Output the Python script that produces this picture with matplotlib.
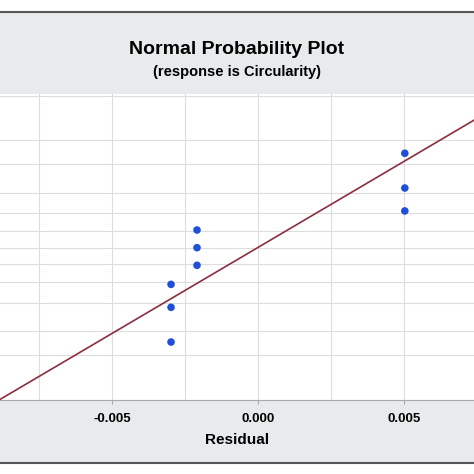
import matplotlib
matplotlib.use("Agg")
import matplotlib.pyplot as plt
import numpy as np
from matplotlib.patches import Rectangle
from matplotlib.lines import Line2D
from statistics import NormalDist

residuals = [-0.00298, -0.00298, -0.00298, -0.00209, -0.00209, -0.00209, 0.00503, 0.00503, 0.00503]
percent_grid = [1, 5, 10, 20, 30, 40, 50, 60, 70, 80, 90, 95, 99]
x_ticks = [-0.005, 0.0, 0.005]
x_labels = ["-0.005", "0.000", "0.005"]

nd = NormalDist()
n = len(residuals)
r = np.sort(np.array(residuals))
z = np.array([nd.inv_cdf((i + 1 - 0.3) / (n + 0.4)) for i in range(n)])
mu, sd = r.mean(), r.std(ddof=1)

plt.rcParams['font.family'] = ['Liberation Sans', 'DejaVu Sans']
fig = plt.figure(figsize=(4.74, 4.74), dpi=100)
fig.patch.set_facecolor('white')
H = 474.0
bg = Rectangle((0, (H - 463) / H), 1, (463 - 12) / H, transform=fig.transFigure,
               facecolor='#e8ebec', edgecolor='none', zorder=-5)
fig.patches.append(bg)
for yy in [12, 463]:
    fig.lines.append(Line2D([0, 1], [(H - yy) / H] * 2, transform=fig.transFigure,
                            color='#555555', lw=1.5, zorder=-4))

ax = fig.add_axes([0, (H - 400) / H, 1, (400 - 94) / H])
ax.set_zorder(2)
ax.set_facecolor('white')
xmin, xmax = -0.00884, 0.0074
ax.set_xlim(xmin, xmax)
ax.set_ylim(-2.33, 2.35)
for v in np.arange(-0.0075, 0.0076, 0.0025):
    ax.axvline(v, color='#dddddd', lw=0.8, zorder=1)
for p in percent_grid:
    ax.axhline(nd.inv_cdf(p / 100), color='#dddddd', lw=0.8, zorder=1)

xs = np.array([xmin, xmax])
ax.plot(xs, (xs - mu) / sd, color='#8b2e3e', lw=1.2, zorder=2)
ax.scatter(r, z, s=30, color='#1f4fd8', zorder=3, edgecolors='none')

ax.set_xticks(x_ticks)
ax.set_xticklabels(x_labels, fontsize=9.5, fontweight='bold')
ax.tick_params(axis='x', length=3, color='#aaaaaa', pad=6)
ax.set_yticks([])
for s in ['left', 'right', 'top']:
    ax.spines[s].set_visible(False)
ax.spines['bottom'].set_color('#aaaaaa')
ax.set_xlabel('Residual', fontsize=11, fontweight='bold', labelpad=6)

fig.text(0.5, (H - 50) / H, 'Normal Probability Plot', ha='center', va='center', fontsize=14, fontweight='bold')
fig.text(0.5, (H - 72) / H, '(response is Circularity)', ha='center', va='center', fontsize=10.5, fontweight='bold')

fig.savefig('out.png', dpi=100)
